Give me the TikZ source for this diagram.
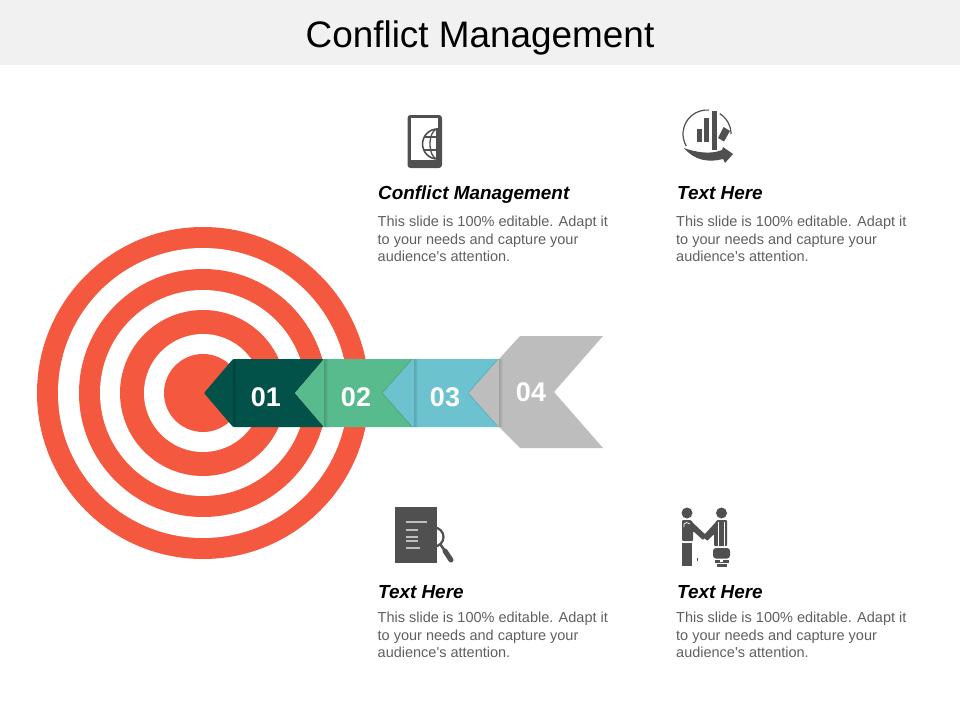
\documentclass[tikz,border=0pt]{standalone}
\usepackage{fontspec}
\setmainfont{Liberation Sans}
\newfontfamily\plainbody{Liberation Sans}
\definecolor{ringred}{HTML}{F4583F}
\definecolor{aone}{HTML}{03524A}
\definecolor{atwo}{HTML}{58BB8E}
\definecolor{athree}{HTML}{6CC3CF}
\definecolor{afour}{HTML}{BDBDBD}
\definecolor{icon}{HTML}{505050}
\definecolor{bodygrey}{HTML}{5F5F5F}
\definecolor{band}{HTML}{F1F1F1}
\tikzset{
  heading/.style={anchor=base west,inner sep=0pt,font=\fontsize{18.9}{22}\selectfont\bfseries\itshape,text=black},
  bodytext/.style={anchor=north west,inner sep=0pt,align=left,text=bodygrey,font=\plainbody\fontsize{14.5}{17.5}\selectfont},
  numlabel/.style={inner sep=0pt,text=white,font=\fontsize{27}{30}\selectfont\bfseries},
  foldshadow/.style={draw=black,draw opacity=.10,line width=2.2pt,fill=none,line join=round},
}
\newcommand{\slidetext}{This slide is 100\% editable. Adapt it\\to your needs and capture your\\audience's attention.}
\begin{document}
\begin{tikzpicture}[x=1pt,y=-1pt]
\useasboundingbox (0,0) rectangle (960,720);
\fill[band] (0,0) rectangle (960,65);
\node[anchor=base,inner sep=0pt,font=\fontsize{36.9}{42}\selectfont] (title) at (480,47) {Conflict Management};

% target
\foreach \r/\c in {166/ringred,145/white,124/ringred,103/white,83/ringred,59/white,39/ringred}
  \fill[\c] (203,393) circle (\r);

% arrow segments
\fill[aone,rounded corners=1pt] (204,393) -- (233,359) -- (324,359) -- (295,393) -- (324,427) -- (233,427) -- cycle;
\fill[atwo] (295,393) -- (324,359) -- (413,359) -- (383,393) -- (413,427) -- (324,427) -- cycle;
\fill[athree] (383,393) -- (413,359) -- (499,359) -- (469,393) -- (499,427) -- (413,427) -- cycle;
% fold shadows
\draw[foldshadow] (324,359) -- (295,393) -- (324,427);
\draw[foldshadow] (413,359) -- (383,393) -- (413,427);
\draw[foldshadow] (499,359) -- (469,393) -- (499,427);
\fill[atwo] (295,393) -- (324,359) -- (330,359) -- (330,427) -- (324,427) -- cycle;
\fill[athree] (383,393) -- (413,359) -- (419,359) -- (419,427) -- (413,427) -- cycle;
\shade[left color=black!18!atwo,right color=atwo] (324,359.5) rectangle (328,426.5);
\shade[left color=black!15!athree,right color=athree] (414,359.5) rectangle (418,426.5);
\fill[afour] (469,393) -- (499,359) -- (520,336) -- (603,336) -- (554,392) -- (603,448) -- (520,448) -- (499,427) -- cycle;
\shade[left color=black!15!afour,right color=afour] (499,359.5) rectangle (503,426.5);
\shade[left color=black!18!aone,right color=aone] (233,361) rectangle (237,425);

\node[numlabel] (n1) at (266,397) {01};
\node[numlabel] (n2) at (356,397) {02};
\node[numlabel] (n3) at (445,397) {03};
\node[numlabel] (n4) at (531,392) {04};

% text blocks
\node[heading] (h1) at (378,199) {Conflict Management};
\node[bodytext] (b1) at (377.5,216) {\slidetext};
\node[heading] (h2) at (677,199) {Text Here};
\node[bodytext] (b2) at (676,216) {\slidetext};
\node[heading] (h3) at (378,598) {Text Here};
\node[bodytext] (b3) at (377.5,612) {\slidetext};
\node[heading] (h4) at (677,598) {Text Here};
\node[bodytext] (b4) at (676,612) {\slidetext};

% phone icon
\fill[icon,rounded corners=3pt] (407.5,115) rectangle (442,168);
\fill[white] (411,118) rectangle (438,160);
\begin{scope}
  \clip (415,120) rectangle (437,160);
  \draw[icon,line width=1.6pt] (437.5,144) circle (15);
  \draw[icon,line width=1.3pt] (437.5,144) ellipse (7.5 and 15);
  \clip (437.5,144) circle (15);
  \draw[icon,line width=1.3pt] (420,137) -- (438,137);
  \draw[icon,line width=1.3pt] (420,150) -- (438,150);
\end{scope}
\draw[icon,line width=1.3pt] (437,128) -- (437,160);

% chart icon
\draw[icon,line width=1.2pt] (707,134) ++(-85:24) arc (-85:-210:24);
\draw[icon,line width=1.2pt] (707,134) ++(-58:24) arc (-58:0:24);
\fill[icon] (697,129) rectangle (701.5,142);
\fill[icon] (704,118) rectangle (708.5,142);
\fill[icon] (712,111) rectangle (716.5,150);
\fill[icon] (723.5,127) -- (730,131) -- (724,141.5) -- (718,138) -- cycle;
\fill[icon] (684,148) .. controls (695,152) and (710,155) .. (722,150) -- (723,147) -- (733,154) -- (725,163) -- (723,159) .. controls (708,163) and (694,160) .. cycle;

% document icon
\draw[icon,line width=2.2pt] (434,537) circle (9.5);
\fill[icon] (395,507) rectangle (437,563);
\foreach \y/\xe in {522/427,530/418,537/418,541/418,548/420}
  \draw[black!25,line width=1.5pt] (406,\y) -- (\xe,\y);
\draw[icon,line width=2.5pt] (440,544) -- (445,551);
\draw[icon,line width=5pt,line cap=round] (445,551) -- (451,560);

% handshake icon
\fill[icon] (687,513) circle (5.5);
\fill[icon] (721.5,513) circle (5.5);
\fill[icon,rounded corners=1pt] (682,520) -- (691,520) -- (693,523) -- (707,536) -- (703,540) -- (693,531) -- (693,541) -- (682,541) -- cycle;
\draw[white,line width=.7pt] (684,527) -- (684,524) .. controls (685,522) and (688,522) .. (690,524);
\fill[icon] (682,543) rectangle (692,566);
\fill[icon,rounded corners=1pt] (727,520) -- (717,520) -- (715,523) -- (703,536) -- (707,541) -- (714,534) -- (714,546) -- (727,546) -- cycle;
\draw[white,line width=.8pt] (718,522) -- (718,546);
\draw[white,line width=.8pt] (724,522) -- (724,546);
\fill[icon,rounded corners=3pt] (713,548) rectangle (730,558.5);
\fill[icon] (714.5,559.5) rectangle (728.5,562.5);
\fill[icon] (717,563.5) rectangle (727,566.5);
\fill[white] (720,559.5) rectangle (723,561.5);
\fill[icon] (696.5,558) rectangle (697,561);
\end{tikzpicture}
\end{document}
